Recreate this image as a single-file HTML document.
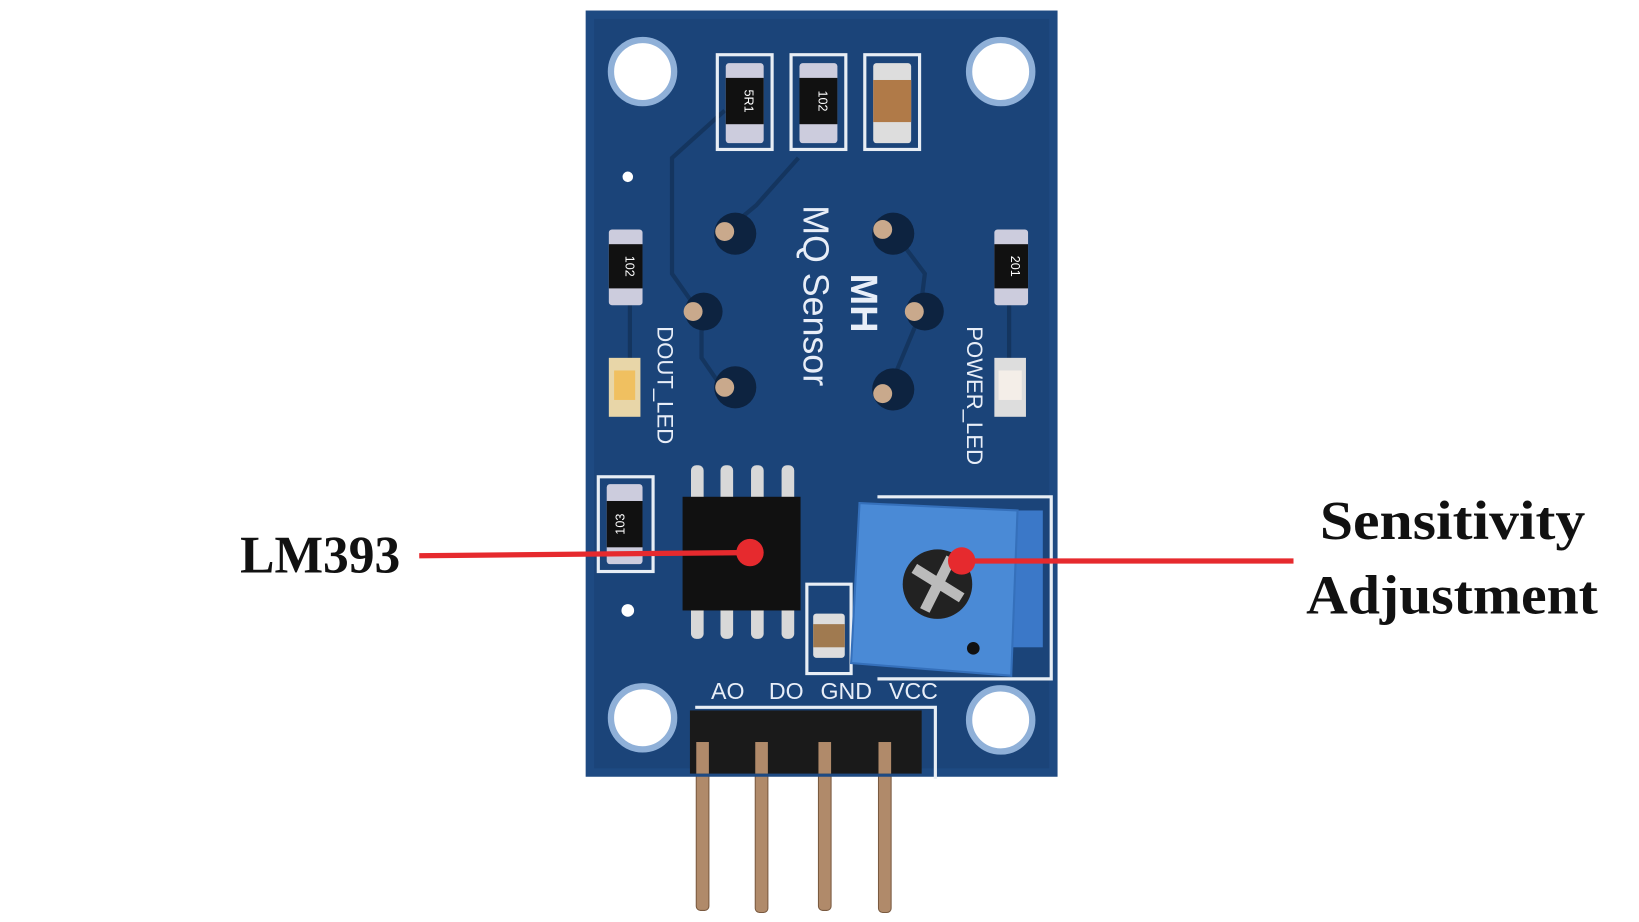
<!DOCTYPE html>
<html><head><meta charset="utf-8"><style>
html,body{margin:0;padding:0;background:#fff;width:1639px;height:922px;overflow:hidden}
svg{display:block}
</style></head><body>
<svg width="1639" height="922" viewBox="0 0 1556 876" preserveAspectRatio="none" xmlns="http://www.w3.org/2000/svg">
<rect width="1556" height="876" fill="#fff"/>
<g fill="#b08a6a" stroke="#7a5a40" stroke-width="1">
<rect x="661" y="700" width="12" height="165" rx="4"/>
<rect x="717" y="700" width="12" height="167" rx="4"/>
<rect x="777" y="700" width="12" height="165" rx="4"/>
<rect x="834" y="700" width="12" height="167" rx="4"/>
</g>
<rect x="556" y="10" width="448" height="728" fill="#1e4a82"/>
<rect x="564" y="18" width="432" height="712" fill="#1b4479"/>
<g fill="#fff" stroke="#8fb0d8" stroke-width="6">
<circle cx="610" cy="68" r="30"/><circle cx="950" cy="68" r="30"/>
<circle cx="610" cy="682" r="30"/><circle cx="950" cy="684" r="30"/>
</g>
<g fill="none" stroke="#14355f" stroke-width="4">
<path d="M688 105 L638 150 L638 260 L666 300 L666 340 L688 372"/>
<path d="M758 150 L718 195 L688 220"/>
<path d="M848 220 L878 260 L873 300 L848 360"/>
<path d="M598 290 L598 340"/><path d="M958 290 L958 340"/>
</g>
<g stroke="#e8eef5" stroke-width="3" fill="none">
<rect x="681" y="52" width="52" height="90"/><rect x="751" y="52" width="52" height="90"/><rect x="821" y="52" width="52" height="90"/>
<rect x="568" y="453" width="52" height="90"/>
<path d="M833 472 L998 472 L998 645 L833 645"/>
<path d="M766 555 L808 555 L808 640 L766 640 Z"/>
<path d="M660 672 L888 672 L888 740"/>
</g>
<g>
<rect x="689" y="60" width="36" height="76" fill="#ccd" rx="3"/><rect x="689" y="74" width="36" height="44" fill="#111"/>
<text x="707" y="96" fill="#fff" font-family="Liberation Sans,sans-serif" font-size="12" text-anchor="middle" transform="rotate(90 707 96)">5R1</text>
<rect x="759" y="60" width="36" height="76" fill="#ccd" rx="3"/><rect x="759" y="74" width="36" height="44" fill="#111"/>
<text x="777" y="96" fill="#fff" font-family="Liberation Sans,sans-serif" font-size="12" text-anchor="middle" transform="rotate(90 777 96)">102</text>
<rect x="829" y="60" width="36" height="76" fill="#ddd" rx="3"/><rect x="829" y="76" width="36" height="40" fill="#b07a48"/>
<rect x="578" y="218" width="32" height="72" fill="#ccd" rx="3"/><rect x="578" y="232" width="32" height="42" fill="#111"/>
<text x="594" y="253" fill="#fff" font-family="Liberation Sans,sans-serif" font-size="12" text-anchor="middle" transform="rotate(90 594 253)">102</text>
<rect x="944" y="218" width="32" height="72" fill="#ccd" rx="3"/><rect x="944" y="232" width="32" height="42" fill="#111"/>
<text x="960" y="253" fill="#fff" font-family="Liberation Sans,sans-serif" font-size="12" text-anchor="middle" transform="rotate(90 960 253)">201</text>
<rect x="576" y="460" width="34" height="76" fill="#ccd" rx="3"/><rect x="576" y="476" width="34" height="44" fill="#111"/>
<text x="593" y="498" fill="#fff" font-family="Liberation Sans,sans-serif" font-size="12" text-anchor="middle" transform="rotate(-90 593 498)">103</text>
<rect x="578" y="340" width="30" height="56" fill="#e8d6a8"/><rect x="583" y="352" width="20" height="28" fill="#f0c060"/>
<rect x="944" y="340" width="30" height="56" fill="#ddd"/><rect x="948" y="352" width="22" height="28" fill="#f4eee8"/>
<circle cx="596" cy="168" r="5" fill="#fff"/><circle cx="596" cy="580" r="6" fill="#fff"/>
</g>
<g>
<circle cx="698" cy="222" r="20" fill="#0d2340"/><circle cx="688" cy="220" r="9" fill="#c9a98c"/>
<circle cx="848" cy="222" r="20" fill="#0d2340"/><circle cx="838" cy="218" r="9" fill="#c9a98c"/>
<circle cx="668" cy="296" r="18" fill="#0d2340"/><circle cx="658" cy="296" r="9" fill="#c9a98c"/>
<circle cx="878" cy="296" r="18" fill="#0d2340"/><circle cx="868" cy="296" r="9" fill="#c9a98c"/>
<circle cx="698" cy="368" r="20" fill="#0d2340"/><circle cx="688" cy="368" r="9" fill="#c9a98c"/>
<circle cx="848" cy="370" r="20" fill="#0d2340"/><circle cx="838" cy="374" r="9" fill="#c9a98c"/>
</g>
<g fill="#e8eef8" font-family="Liberation Sans,sans-serif">
<text x="808" y="260" font-size="36" font-weight="bold" transform="rotate(90 808 260)">MH</text>
<text x="763" y="195" font-size="34" transform="rotate(90 763 195)">MQ Sensor</text>
<text x="624" y="310" font-size="21" transform="rotate(90 624 310)">DOUT_LED</text>
<text x="918" y="310" font-size="21" transform="rotate(90 918 310)">POWER_LED</text>
<text x="675" y="664" font-size="22">AO</text>
<text x="730" y="664" font-size="22">DO</text>
<text x="779" y="664" font-size="22">GND</text>
<text x="844" y="664" font-size="22">VCC</text>
</g>
<g fill="#d8d8d8">
<rect x="656" y="442" width="12" height="40" rx="5"/><rect x="684" y="442" width="12" height="40" rx="5"/><rect x="713" y="442" width="12" height="40" rx="5"/><rect x="742" y="442" width="12" height="40" rx="5"/>
<rect x="656" y="565" width="12" height="42" rx="5"/><rect x="684" y="565" width="12" height="42" rx="5"/><rect x="713" y="565" width="12" height="42" rx="5"/><rect x="742" y="565" width="12" height="42" rx="5"/>
</g>
<rect x="648" y="472" width="112" height="108" fill="#111"/>
<rect x="772" y="583" width="30" height="42" fill="#ddd" rx="3"/><rect x="772" y="593" width="30" height="22" fill="#a07a50"/>
<rect x="958" y="485" width="32" height="130" fill="#3b78c8"/>
<path d="M816 478 L966 485 L960 642 L808 630 Z" fill="#4a8ad6" stroke="#3570bb" stroke-width="2"/>
<circle cx="890" cy="555" r="33" fill="#222"/>
<path d="M868 540 L913 568 M878 580 L903 530" stroke="#bbb" stroke-width="10"/>
<circle cx="924" cy="616" r="6" fill="#111"/>
<rect x="655" y="675" width="220" height="60" fill="#1a1a1a"/>
<g fill="#b08a6a"><rect x="661" y="705" width="12" height="30"/><rect x="717" y="705" width="12" height="30"/><rect x="777" y="705" width="12" height="30"/><rect x="834" y="705" width="12" height="30"/></g>
<line x1="398" y1="528" x2="712" y2="525" stroke="#e62a2e" stroke-width="5"/>
<circle cx="712" cy="525" r="13" fill="#e62a2e"/>
<line x1="913" y1="533" x2="1228" y2="533" stroke="#e62a2e" stroke-width="5"/>
<circle cx="913" cy="533" r="13" fill="#e62a2e"/>
<g font-family="Liberation Serif,serif" font-weight="bold" fill="#111">
<text x="228" y="544" font-size="50" textLength="152" lengthAdjust="spacingAndGlyphs">LM393</text>
<text x="1253" y="512" font-size="52" textLength="252" lengthAdjust="spacingAndGlyphs">Sensitivity</text>
<text x="1240" y="583" font-size="52" textLength="277" lengthAdjust="spacingAndGlyphs">Adjustment</text>
</g>
</svg>
</body></html>
